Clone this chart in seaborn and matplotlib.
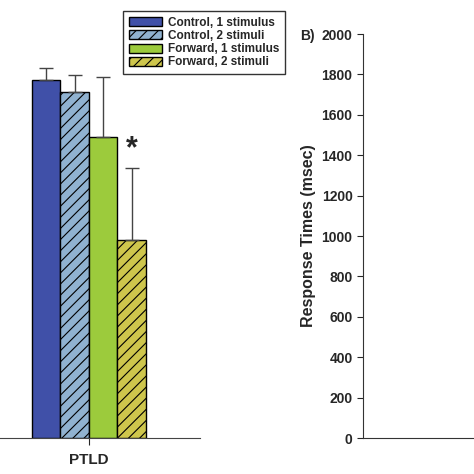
import matplotlib
matplotlib.use("Agg")
import matplotlib.pyplot as plt
import matplotlib.patches as mpatches
import seaborn as sns
import pandas as pd

conditions = ["Control, 1 stimulus", "Control, 2 stimuli", "Forward, 1 stimulus", "Forward, 2 stimuli"]
means = [1772, 1713, 1490, 980]
errors = [60, 84, 297, 357]
group = ["PTLD"] * 4
colors = ["#4050A8", "#90B2D0", "#9CCB3C", "#CEC64C"]
hatches = ["", "///", "", "///"]
yticks = list(range(0, 2001, 200))

sns.set_style("white")
plt.rcParams["font.family"] = ["Liberation Sans", "DejaVu Sans"]
plt.rcParams["hatch.linewidth"] = 0.8
df = pd.DataFrame({"group": group, "cond": conditions, "rt": means})

fig = plt.figure(figsize=(4.74, 4.74), dpi=100)
ax = fig.add_axes([0.0, 36/474, 200/474, 404/474])
sns.barplot(data=df, x="group", y="rt", hue="cond", palette=colors, hue_order=conditions,
            width=0.8, edgecolor="black", linewidth=1, errorbar=None, ax=ax, legend=False,
            saturation=1)
bars = [p for p in ax.patches if p.get_height() > 0][:4]
for i, (p, h, e) in enumerate(zip(bars, hatches, errors)):
    p.set_hatch(h)
    xc = p.get_x() + p.get_width() / 2
    ax.errorbar([xc], [p.get_height()], yerr=[[0], [e]], color="#444444", capsize=5, lw=1, capthick=1)
    if i == 3:
        ax.text(xc, p.get_height() + e + 20, "*", ha="center", va="bottom", fontsize=22, fontweight="bold")
handles = [mpatches.Patch(facecolor=c, hatch=h, edgecolor="black", label=lab)
           for c, h, lab in zip(colors, hatches, conditions)]
ax.legend(handles=handles, loc="upper left", bbox_to_anchor=(117/474, 1 - 5/474),
          bbox_transform=fig.transFigure, frameon=True, fancybox=False, edgecolor="black",
          prop={"weight": "bold", "size": 8.5}, handlelength=2.8, handleheight=0.8,
          labelspacing=0.1, borderpad=0.5, handletextpad=0.5)
ax.set_ylim(0, 2000)
ax.set_xlim(-0.625, 0.78)
ax.set_yticks([])
ax.set_xlabel("")
ax.set_ylabel("")
ax.tick_params(axis="x", length=5, direction="out", bottom=True, labelsize=11, pad=6)
for lab in ax.get_xticklabels():
    lab.set_fontweight("bold")
for s in ["left", "top", "right"]:
    ax.spines[s].set_visible(False)
ax.spines["bottom"].set_color("#444444")

ax2 = fig.add_axes([363/474, 36/474, 0.3, 404/474])
ax2.set_ylim(0, 2000)
ax2.set_yticks(yticks)
ax2.set_yticklabels([str(t) for t in yticks], fontweight="bold", fontsize=10)
ax2.set_xticks([])
ax2.set_ylabel("Response Times (msec)", fontweight="bold", fontsize=11.5, labelpad=4)
ax2.tick_params(axis="y", length=4, direction="out", left=True)
for s in ["top", "right"]:
    ax2.spines[s].set_visible(False)
ax2.spines["left"].set_color("#333333")
ax2.spines["bottom"].set_color("#333333")
fig.text(300/474, 1 - 40/474, "B)", fontweight="bold", fontsize=10)
fig.savefig("out.png", dpi=100)
